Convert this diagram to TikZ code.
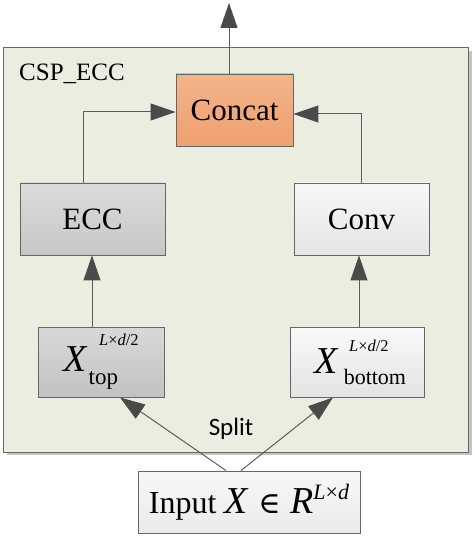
\documentclass[tikz,border=0pt]{standalone}
\usepackage{fontspec}
\setmainfont{Liberation Serif}
\newfontfamily\splitfont{Carlito}
\newfontfamily\symbfont{DejaVu Serif}
\usetikzlibrary{arrows.meta, shadows}

\definecolor{panelfill}{HTML}{ECEDE1}
\definecolor{edgegray}{HTML}{666666}
\definecolor{linegray}{HTML}{5C5C5C}
\definecolor{tipgray}{HTML}{4A4A4A}
\definecolor{concattop}{HTML}{F3B48A}
\definecolor{concatbot}{HTML}{EEA070}

\tikzset{
  block/.style={draw=edgegray, line width=0.9pt, inner sep=0pt, minimum height=72pt},
  flow/.style={draw=linegray, line width=1pt,
    -{Triangle[width=17pt,length=25pt,color=tipgray,fill=tipgray]}}
}
\newcommand{\bigtxt}{\fontsize{31}{34}\selectfont}
\newcommand{\supdim}{{\fontsize{16.5}{17}\selectfont\textit{L}×\textit{d}/2}}

\begin{document}
\begin{tikzpicture}[x=1pt, y=-1pt]
    \useasboundingbox (0,0) rectangle (474,553);

    % Panel
    \node[draw=edgegray, line width=1pt, fill=panelfill, minimum width=465pt, minimum height=404pt,
      drop shadow={shadow xshift=4pt, shadow yshift=-3pt, fill=black!45}] (panel) at (235.5,250) {};
    \node[anchor=west, inner sep=0pt] (title) at (19,74) {\fontsize{25}{28}\selectfont CSP\_ECC};

    % Blocks
    \node[block, minimum width=117pt, top color=concattop, bottom color=concatbot]
      (concat) at (234.5,110) {\bigtxt Concat};
    \node[block, minimum width=145pt, top color=black!14, bottom color=black!22]
      (ecc) at (92.5,219) {\bigtxt ECC};
    \node[block, minimum width=135pt, top color=black!3, bottom color=black!10]
      (conv) at (361.5,219) {\bigtxt Conv};
    \node[block, minimum width=126pt, minimum height=70pt, top color=black!15, bottom color=black!24]
      (xtop) at (101,362) {\fontsize{38}{40}\selectfont\textit{X}\kern1pt%
        \raisebox{-13pt}{\fontsize{23}{24}\selectfont top}\kern-19pt\raisebox{26pt}{\supdim}};
    \node[block, minimum width=134pt, minimum height=70pt, top color=black!2, bottom color=black!11]
      (xbot) at (357,362) {\fontsize{38}{40}\selectfont\textit{X}\kern5pt%
        \raisebox{-11pt}{\fontsize{22}{24}\selectfont bottom}\kern-57pt\raisebox{22pt}{\supdim}\kern11pt};
    \node[block, minimum width=222pt, minimum height=62pt, top color=black!3, bottom color=black!8]
      (input) at (249,502) {\fontsize{32}{34}\selectfont Input \fontsize{38}{40}\selectfont\textit{X}
        {\symbfont\fontsize{30}{32}\selectfont ∈} \textit{R}\raisebox{14pt}{\fontsize{22}{24}\selectfont\textit{L}×\textit{d}}};
    \node[inner sep=0pt] (split) at (231,429) {\splitfont\fontsize{25}{28}\selectfont Split};

    % Connectors
    \coordinate (out) at (229,3);
    \draw[flow] ([xshift=-5.5pt]concat.north) -- (out);
    \draw[flow] ([xshift=-9.5pt]ecc.north) |- ([yshift=-2pt]concat.west);
    \draw[flow] (conv.north) |- ([yshift=-4pt]concat.east);
    \draw[flow] ([xshift=-9pt]xtop.north) -- ([xshift=-0.5pt]ecc.south);
    \draw[flow] ([xshift=2pt]xbot.north) -- ([xshift=-2.5pt]conv.south);
    \draw[flow] ([xshift=-23pt]input.north) -- ([xshift=19pt]xtop.south);
    \draw[flow] ([xshift=-8pt]input.north) -- ([xshift=-24pt]xbot.south);
\end{tikzpicture}
\end{document}
